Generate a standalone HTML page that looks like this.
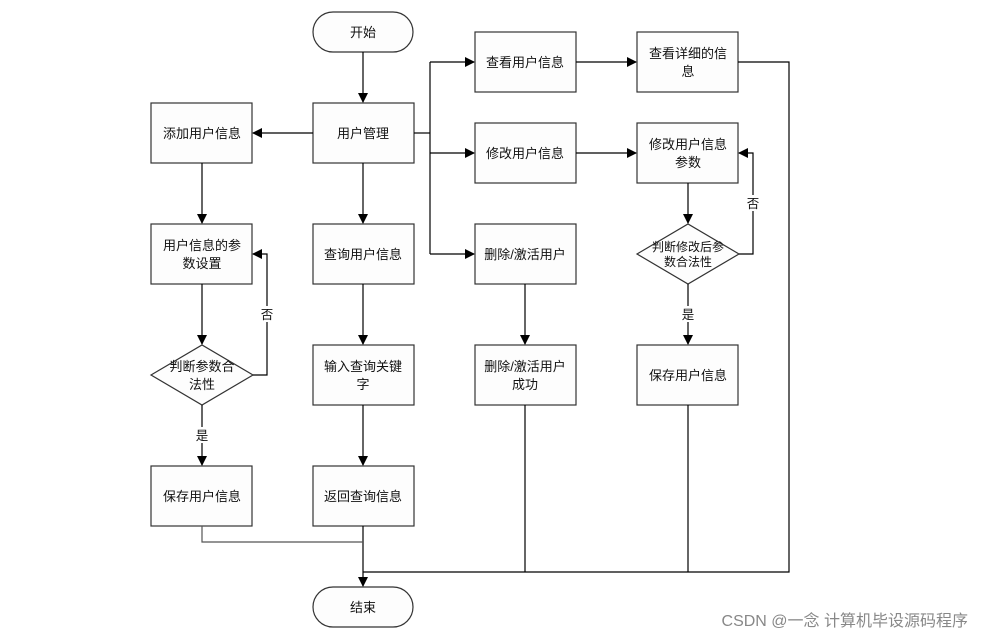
<!DOCTYPE html>
<html><head><meta charset="utf-8"><style>
html,body{margin:0;padding:0;background:#fff;}
svg{display:block;}
text{font-family:"Liberation Sans","Noto Sans CJK SC",sans-serif;font-size:13px;fill:#111;text-anchor:middle;}
text.s{font-size:12.5px;}
text.xs{font-size:12px;}
text.wm{font-size:16px;fill:#888;text-anchor:end;}
</style></head><body>
<svg width="983" height="639" viewBox="0 0 983 639" xmlns="http://www.w3.org/2000/svg">
<defs>
<marker id="a" markerWidth="10" markerHeight="10" refX="9" refY="5" orient="auto" markerUnits="userSpaceOnUse">
<path d="M0,0 L10,5 L0,10 z" fill="#000"/></marker>
</defs>
<g fill="#fdfdfd" stroke="#333" stroke-width="1.2">
<rect x="313" y="12" width="100" height="40" rx="20"/>
<rect x="313" y="587" width="100" height="40" rx="20"/>
<rect x="313" y="103" width="101" height="60"/>
<rect x="151" y="103" width="101" height="60"/>
<rect x="151" y="224" width="101" height="60"/>
<polygon points="151,375 202,345 253,375 202,405"/>
<rect x="151" y="466" width="101" height="60"/>
<rect x="313" y="224" width="101" height="60"/>
<rect x="313" y="345" width="101" height="60"/>
<rect x="313" y="466" width="101" height="60"/>
<rect x="475" y="32" width="101" height="60"/>
<rect x="475" y="123" width="101" height="60"/>
<rect x="475" y="224" width="101" height="60"/>
<rect x="475" y="345" width="101" height="60"/>
<rect x="637" y="32" width="101" height="60"/>
<rect x="637" y="123" width="101" height="60"/>
<polygon points="637,254 688,224 739,254 688,284"/>
<rect x="637" y="345" width="101" height="60"/>
</g>
<g fill="none" stroke="#000" stroke-width="1.2">
<line x1="363" y1="52" x2="363" y2="102" marker-end="url(#a)"/>
<line x1="313" y1="133" x2="253" y2="133" marker-end="url(#a)"/>
<line x1="363" y1="163" x2="363" y2="223" marker-end="url(#a)"/>
<line x1="202" y1="163" x2="202" y2="223" marker-end="url(#a)"/>
<line x1="202" y1="284" x2="202" y2="344" marker-end="url(#a)"/>
<line x1="202" y1="405" x2="202" y2="465" marker-end="url(#a)"/>
<polyline points="253,375 267,375 267,254 253,254" marker-end="url(#a)"/>
<line x1="363" y1="284" x2="363" y2="344" marker-end="url(#a)"/>
<line x1="363" y1="405" x2="363" y2="465" marker-end="url(#a)"/>
<line x1="363" y1="526" x2="363" y2="586" marker-end="url(#a)"/>
<polyline points="414,133 430,133"/>
<polyline points="430,62 430,254"/>
<line x1="430" y1="62" x2="474" y2="62" marker-end="url(#a)"/>
<line x1="430" y1="153" x2="474" y2="153" marker-end="url(#a)"/>
<line x1="430" y1="254" x2="474" y2="254" marker-end="url(#a)"/>
<line x1="576" y1="62" x2="636" y2="62" marker-end="url(#a)"/>
<line x1="576" y1="153" x2="636" y2="153" marker-end="url(#a)"/>
<line x1="525" y1="284" x2="525" y2="344" marker-end="url(#a)"/>
<line x1="688" y1="183" x2="688" y2="223" marker-end="url(#a)"/>
<line x1="688" y1="284" x2="688" y2="344" marker-end="url(#a)"/>
<polyline points="739,254 753,254 753,153 739,153" marker-end="url(#a)"/>
<polyline points="738,62 789,62 789,572 363,572"/>
<line x1="525" y1="405" x2="525" y2="572"/>
<line x1="688" y1="405" x2="688" y2="572"/>
<polyline points="202,526 202,542 363,542" stroke="#555"/>
</g>
<g fill="#fff">
<rect x="193" y="427" width="18" height="16"/>
<rect x="679" y="306" width="18" height="16"/>
<rect x="258" y="306" width="18" height="16"/>
<rect x="744" y="195" width="18" height="16"/>
</g>
<text x="363" y="37">开始</text>
<text x="363" y="612">结束</text>
<text x="363" y="138">用户管理</text>
<text x="202" y="138">添加用户信息</text>
<text x="202" y="250">用户信息的参</text>
<text x="202" y="268">数设置</text>
<text x="202" y="371">判断参数合</text>
<text x="202" y="389">法性</text>
<text class="s" x="202" y="440">是</text>
<text class="s" x="267" y="319">否</text>
<text x="202" y="501">保存用户信息</text>
<text x="363" y="259">查询用户信息</text>
<text x="363" y="371">输入查询关键</text>
<text x="363" y="389">字</text>
<text x="363" y="501">返回查询信息</text>
<text x="525" y="67">查看用户信息</text>
<text x="525" y="158">修改用户信息</text>
<text x="525" y="259">删除/激活用户</text>
<text x="525" y="371">删除/激活用户</text>
<text x="525" y="389">成功</text>
<text x="688" y="58">查看详细的信</text>
<text x="688" y="76">息</text>
<text x="688" y="149">修改用户信息</text>
<text x="688" y="167">参数</text>
<text class="xs" x="688" y="251">判断修改后参</text>
<text class="xs" x="688" y="266">数合法性</text>
<text class="s" x="688" y="319">是</text>
<text class="s" x="753" y="208">否</text>
<text x="688" y="380">保存用户信息</text>
<text class="wm" x="968" y="626">CSDN @一念 计算机毕设源码程序</text>
</svg>
</body></html>
